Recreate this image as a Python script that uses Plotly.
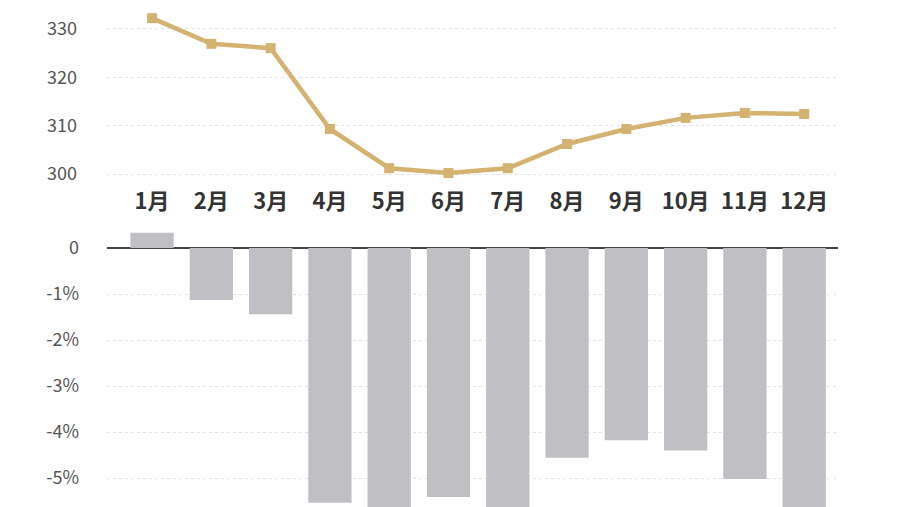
import plotly.graph_objects as go

months = ["1月", "2月", "3月", "4月", "5月", "6月", "7月", "8月", "9月", "10月", "11月", "12月"]
line_values = [332.2, 326.9, 326.0, 309.3, 301.2, 300.2, 301.2, 306.2, 309.3, 311.6, 312.6, 312.4]
bar_values = [0.33, -1.13, -1.44, -5.54, -5.75, -5.41, -5.75, -4.56, -4.18, -4.40, -5.02, -5.8]
line_ticks = [300, 310, 320, 330]
bar_ticks = [0, -1, -2, -3, -4, -5]
bar_tick_text = ["0", "-1%", "-2%", "-3%", "-4%", "-5%"]

W, H = 898, 507
FONT = "Noto Sans CJK SC"
GOLD = "rgb(212,178,112)"

fig = go.Figure()
fig.add_trace(go.Scatter(
    x=months, y=line_values, mode="lines+markers",
    line=dict(color=GOLD, width=4.5),
    marker=dict(symbol="square", size=10, color=GOLD),
    xaxis="x", yaxis="y", showlegend=False, hoverinfo="x+y",
))
fig.add_trace(go.Bar(
    x=months, y=bar_values, width=0.73,
    marker=dict(color="rgb(192,192,196)", line=dict(width=0)),
    xaxis="x2", yaxis="y2", showlegend=False,
))

top_dom = [1 - 185 / H, 1]
bot_dom = [0, 1 - 225 / H]
xr = [-0.76, 11.57]

fig.update_layout(
    width=W, height=H,
    margin=dict(l=107, r=60, t=0, b=0),
    paper_bgcolor="white", plot_bgcolor="white",
    font=dict(family=FONT, color="#555", size=18),
    xaxis=dict(domain=[0, 1], range=xr, anchor="y", showgrid=False, zeroline=False,
               showline=False, ticks="", categoryorder="array", categoryarray=months,
               tickfont=dict(family=FONT, size=22, color="#333", weight="bold"),
               ticklabelstandoff=1),
    yaxis=dict(domain=top_dom, range=[297.73, 335.95], anchor="x", tickvals=line_ticks,
               showgrid=True, gridcolor="#e2e2e2", griddash="3px,3px", gridwidth=1,
               zeroline=False, showline=False, ticks="", ticklabelstandoff=29,
               tickfont=dict(family=FONT, size=18, color="#555")),
    xaxis2=dict(domain=[0, 1], range=xr, anchor="y2", showgrid=False, zeroline=False,
                showline=False, showticklabels=False, ticks="",
                categoryorder="array", categoryarray=months),
    yaxis2=dict(domain=bot_dom, range=[-5.63, 0.5], anchor="x2", tickvals=bar_ticks,
                ticktext=bar_tick_text, showgrid=True, gridcolor="#e2e2e2",
                griddash="3px,3px", gridwidth=1, zeroline=True, zerolinecolor="#444",
                zerolinewidth=1.5, showline=False, ticks="", ticklabelstandoff=27,
                tickfont=dict(family=FONT, size=18, color="#555")),
    bargap=0.27,
)

fig.write_html("out.html")
